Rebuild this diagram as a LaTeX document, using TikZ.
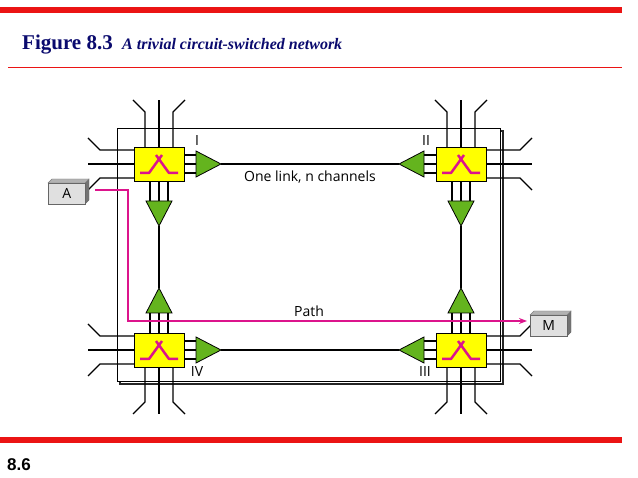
\documentclass[tikz,border=0pt]{standalone}
\usepackage{fontspec}
\usetikzlibrary{arrows.meta}
\setmainfont{Liberation Serif}
\newfontfamily\lab{Open Sans}
\newfontfamily\sanb{Liberation Sans}
\definecolor{barred}{RGB}{235,20,20}
\definecolor{navy}{RGB}{10,10,110}
\definecolor{swy}{RGB}{255,255,0}
\definecolor{grn}{RGB}{100,180,30}
\definecolor{mag}{RGB}{220,20,140}
\begin{document}
\begin{tikzpicture}[x=1pt,y=-1pt,
  line/.style={line width=1.3pt,black},
  link/.style={line width=2pt,black},
  sw/.style={draw=black,fill=swy,line width=0.8pt,minimum width=50pt,minimum height=34pt,inner sep=0},
  tri/.style={draw=black,fill=grn,line width=0.8pt},
  lbl/.style={font=\lab\fontsize{14}{14}\selectfont},
  ppath/.style={draw=mag,line width=1.4pt}]
\useasboundingbox (0,0) rectangle (638,478);
\fill[white] (0,0) rectangle (638,478);
\fill[barred] (0,7) rectangle (622,13);
\draw[barred,line width=1pt] (8,68) -- (622,68);
\fill[barred] (0,437) rectangle (622,443);
\node[anchor=base west,text=navy,font=\bfseries\fontsize{21}{21}\selectfont,inner sep=0] (t1) at (22,50) {Figure 8.3};
\node[anchor=base west,text=navy,font=\bfseries\itshape\fontsize{16}{16}\selectfont,inner sep=0] (t2) at ([xshift=9pt]t1.base east) {A trivial circuit-switched network};
\node[anchor=base west,font=\sanb\bfseries\fontsize{17}{17}\selectfont,inner sep=0] (pg) at (7,471) {8.6};
\draw[line width=2.5pt,black!85] (120,131) rectangle (503,384);
\draw[line width=0.8pt,fill=white] (117,128) rectangle (500,381);
\newcommand\stubs[3]{%
 \begin{scope}[shift={(#1)},rotate=#2]
  \draw[line] (-14,0) -- (-14,-#3+12) -- (-26,-#3);
  \draw[line] (0,0) -- (0,-#3);
  \draw[line] (14,0) -- (14,-#3+12) -- (26,-#3);
 \end{scope}}
\newcommand\chan[2]{%
 \begin{scope}[shift={(#1)},rotate=#2]
  \draw[line] (-9,0) -- (-9,-40); \draw[line] (0,0) -- (0,-40); \draw[line] (9,0) -- (9,-40);
 \end{scope}}
\newcommand\amp[3]{%
 \begin{scope}[shift={(#1)},rotate=#2]
  \draw[tri] (-13,-37) -- (13,-37) -- (0,-62) -- cycle;
  \coordinate (#3) at (0,-62);
 \end{scope}}
\stubs{159,164}{0}{64}
\stubs{159,164}{90}{71}
\stubs{461,164}{0}{64}
\stubs{461,164}{-90}{71}
\stubs{159,350}{90}{71}
\stubs{159,350}{180}{64}
\stubs{461,350}{-90}{71}
\stubs{461,350}{180}{64}
\chan{159,164}{-90}\chan{159,164}{180}
\chan{461,164}{90}\chan{461,164}{180}
\chan{159,350}{-90}\chan{159,350}{0}
\chan{461,350}{90}\chan{461,350}{0}
\amp{159,164}{-90}{aIr}\amp{159,164}{180}{aId}
\amp{461,164}{90}{aIIl}\amp{461,164}{180}{aIId}
\amp{159,350}{-90}{aIVr}\amp{159,350}{0}{aIVu}
\amp{461,350}{90}{aIIIl}\amp{461,350}{0}{aIIIu}
\draw[link] (aIr) -- (aIIl);
\draw[link] (aIVr) -- (aIIIl);
\draw[link] (aId) -- (aIVu);
\draw[link] (aIId) -- (aIIIu);
\newcommand\swsym[1]{%
 \begin{scope}[shift={(#1)}]
  \draw[mag,line width=2.5pt,line join=round] (-19,9) -- (-10,9) -- (3,-9);
  \draw[mag,line width=2.5pt,line join=round] (19,9) -- (10,9) -- (-3,-9);
 \end{scope}}
\node[sw] (sI) at (159,164) {};
\node[sw] (sII) at (461,164) {};
\node[sw] (sIV) at (159,350) {};
\node[sw] (sIII) at (461,350) {};
\swsym{159,164}\swsym{461,164}\swsym{159,350}\swsym{461,350}
\node[lbl] (lI) at (197,141) {I};
\node[lbl] (lII) at (426,141) {II};
\node[lbl] (lIV) at (197,372) {IV};
\node[lbl] (lIII) at (425,372) {III};
\node[lbl] (lnk) at (310,177) {One link, n channels};
\node[lbl] (lp) at (309,311) {Path};
\newcommand\station[3]{%
 \fill[black!55,draw=black!60] (#1+37,#2) -- (#1+41,#2-4) -- (#1+41,#2+17) -- (#1+37,#2+21) -- cycle;
 \fill[black!30,draw=black!50] (#1,#2) -- (#1+4,#2-4) -- (#1+41,#2-4) -- (#1+37,#2) -- cycle;
 \node[draw=black!60,fill=black!12,minimum width=37pt,minimum height=21pt,inner sep=0,anchor=north west,lbl] (#3) at (#1,#2) {\MakeUppercase{#3}};}
\station{48}{183}{a}
\station{530}{315}{m}
\coordinate (p0) at (95,190);
\coordinate (p1) at (128,190);
\coordinate (p2) at (128,321);
\coordinate (p3) at (527,321);
\draw[ppath,-{Stealth[length=8pt,width=6pt]}] (p0) -- (p1) -- (p2) -- (p3);
\end{tikzpicture}
\end{document}
